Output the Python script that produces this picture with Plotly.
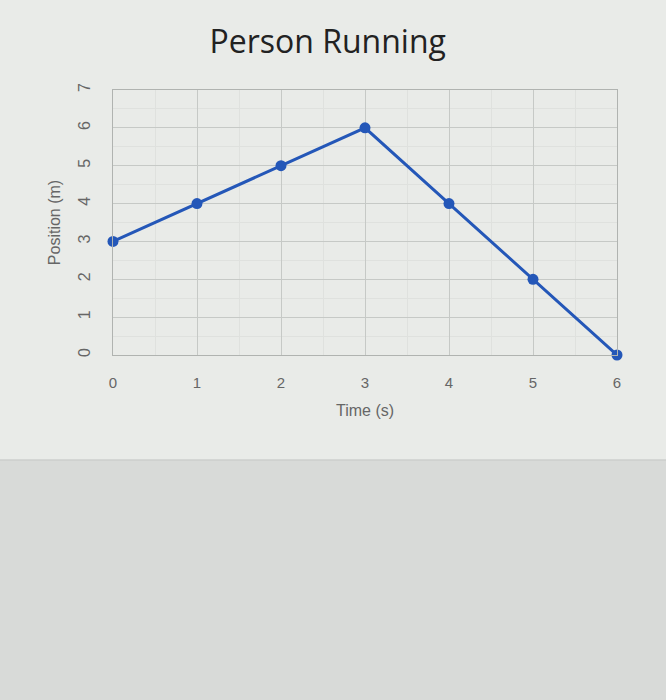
import plotly.graph_objects as go

time_s = [0, 1, 2, 3, 4, 5, 6]
position_m = [3, 4, 5, 6, 4, 2, 0]
x_ticks = [0, 1, 2, 3, 4, 5, 6]
y_ticks = [0, 1, 2, 3, 4, 5, 6, 7]

fig = go.Figure()
fig.add_trace(go.Scatter(
    x=time_s, y=position_m, mode="lines+markers",
    line=dict(color="#2457b8", width=3),
    marker=dict(color="#2457b8", size=11),
    cliponaxis=False, showlegend=False,
))

# chart area (lighter) vs rest of sheet
fig.add_shape(type="rect", xref="paper", yref="paper",
              x0=-0.23, x1=1.1, y0=-0.396, y1=1.35,
              fillcolor="#e9ebe8", line=dict(color="#c4c6c4", width=1), layer="below")

fig.update_layout(
    width=666, height=700,
    margin=dict(l=113, r=49, t=90, b=345),
    paper_bgcolor="#d8dad8",
    plot_bgcolor="#eff0ee",
    title=dict(text="Person Running", x=0.492, xanchor="center", y=0.94, yanchor="middle",
               font=dict(family="Open Sans, Liberation Sans, sans-serif", size=32, color="#222")),
    font=dict(family="Liberation Sans, Arial, sans-serif", color="#666"),
    xaxis=dict(range=[0, 6], tickvals=x_ticks, showgrid=True, gridcolor="#c6c9c6",
               zeroline=False, showline=True, linecolor="#b0b3b0", mirror=True,
               ticks="", ticklabelstandoff=14, tickfont=dict(size=15, color="#666"),
               title=dict(text="Time (s)", font=dict(size=16, color="#666"), standoff=14),
               minor=dict(dtick=0.5, showgrid=True, gridcolor="#dfe1de")),
    yaxis=dict(range=[0, 7], tickvals=y_ticks, showgrid=True, gridcolor="#c6c9c6",
               zeroline=False, showline=True, linecolor="#b0b3b0", mirror=True,
               ticks="", tickangle=-90, ticklabelstandoff=16, tickfont=dict(size=16, color="#666"),
               title=dict(text="Position (m)", font=dict(size=16, color="#666"), standoff=10),
               minor=dict(dtick=0.5, showgrid=True, gridcolor="#dfe1de")),
)

fig.write_html("out.html", config={"displayModeBar": False},
               post_script="document.body.style.margin='0';document.body.style.background='#d8dad8';")
